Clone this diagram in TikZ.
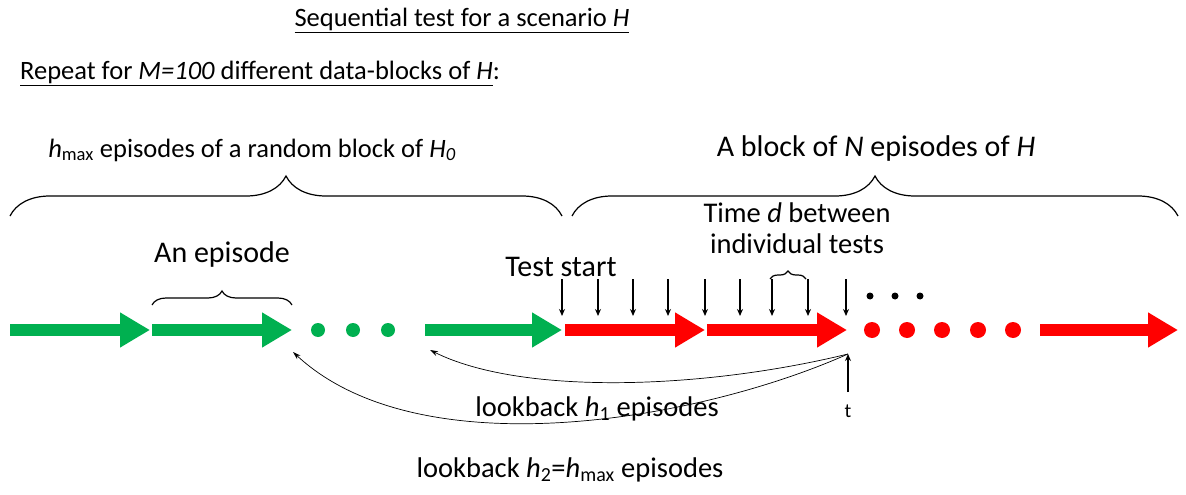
\documentclass[tikz,border=0pt]{standalone}
\usepackage{fontspec}
\setmainfont{Carlito}
\usetikzlibrary{decorations.pathreplacing,arrows.meta}
\definecolor{gr}{RGB}{0,176,80}
\definecolor{rd}{RGB}{255,0,0}
\begin{document}
\begin{tikzpicture}[x=1pt,y=-1pt,
  txt/.style={font=\fontsize{26.5}{31}\selectfont,inner sep=0pt},
  big/.style={font=\fontsize{30}{34}\selectfont,inner sep=0pt},
  br/.style={decorate,decoration={brace,amplitude=#1},line width=1.2pt},
  fat/.style={line width=12pt,-{Triangle[length=30pt,width=33pt]}},
  tick/.style={line width=1.2pt,-{Stealth[length=7pt,width=6pt]}},
  look/.style={line width=0.7pt,-{Stealth[length=8pt,width=5pt]}}]
\useasboundingbox (0,0) rectangle (1186,495);
\node[txt] (title) at (462,20) {\underline{Sequential test for a scenario \textit{H}}};
\node[txt,anchor=west] (rep) at (20,73) {\underline{Repeat for \textit{M=100} different data-blocks of \textit{H}}:};
\draw[br=40pt] (10,216) -- (562,216);
\node[txt] (l1) at (252,150) {\textit{h}\textsubscript{max} episodes of a random block of \textit{H\textsubscript{0}}};
\draw[br=40pt] (572,216) -- (1178,216);
\node[big] (l2) at (876,149) {A block of \textit{N} episodes of \textit{H}};
\node[txt,align=center,font=\fontsize{28.5}{31}\selectfont] (td) at (797,228) {Time \textit{d} between\\individual tests};
\draw[br=8pt] (770,279) -- (806,279);
\node[big] (ep) at (222,254) {An episode};
\draw[br=14pt] (152,305) -- (292,305);
\node[big] (ts) at (561,267) {Test start};
% green
\foreach \a/\b in {10/150,152/292,425/562} \draw[fat,gr] (\a,330) -- (\b,330);
\foreach \x in {318,353,388} \fill[gr] (\x,330) circle (7pt);
% red
\foreach \a/\b in {565/705,707/847,1040/1178} \draw[fat,rd] (\a,330) -- (\b,330);
\foreach \x in {872,907,942,978,1013} \fill[rd] (\x,330) circle (8pt);
% ticks
\foreach \x in {562,598,633,668,705,740,772,808,846} \draw[tick] (\x,279) -- (\x,316);
\foreach \x in {870,895,920} \fill (\x,296) circle (3.5pt);
\coordinate (tb) at (848,392);
\coordinate (tt) at (848,354);
\draw[tick] (tb) -- (tt);
\node[txt] (t) at (848,411) {\fontsize{20}{22}\selectfont t};
\coordinate (d1) at (430,350);
\coordinate (d2) at (293,352);
\draw[look] (tt) .. controls (700,390) and (520,395) .. (d1);
\draw[look] (tt) .. controls (700,420) and (420,470) .. (d2);
\node[txt,font=\fontsize{28.5}{31}\selectfont] (lb1) at (597,409) {lookback \textit{h}\textsubscript{1} episodes};
\node[txt,font=\fontsize{28.5}{31}\selectfont] (lb2) at (570,470) {lookback \textit{h}\textsubscript{2}=\textit{h}\textsubscript{max} episodes};
\end{tikzpicture}
\end{document}
